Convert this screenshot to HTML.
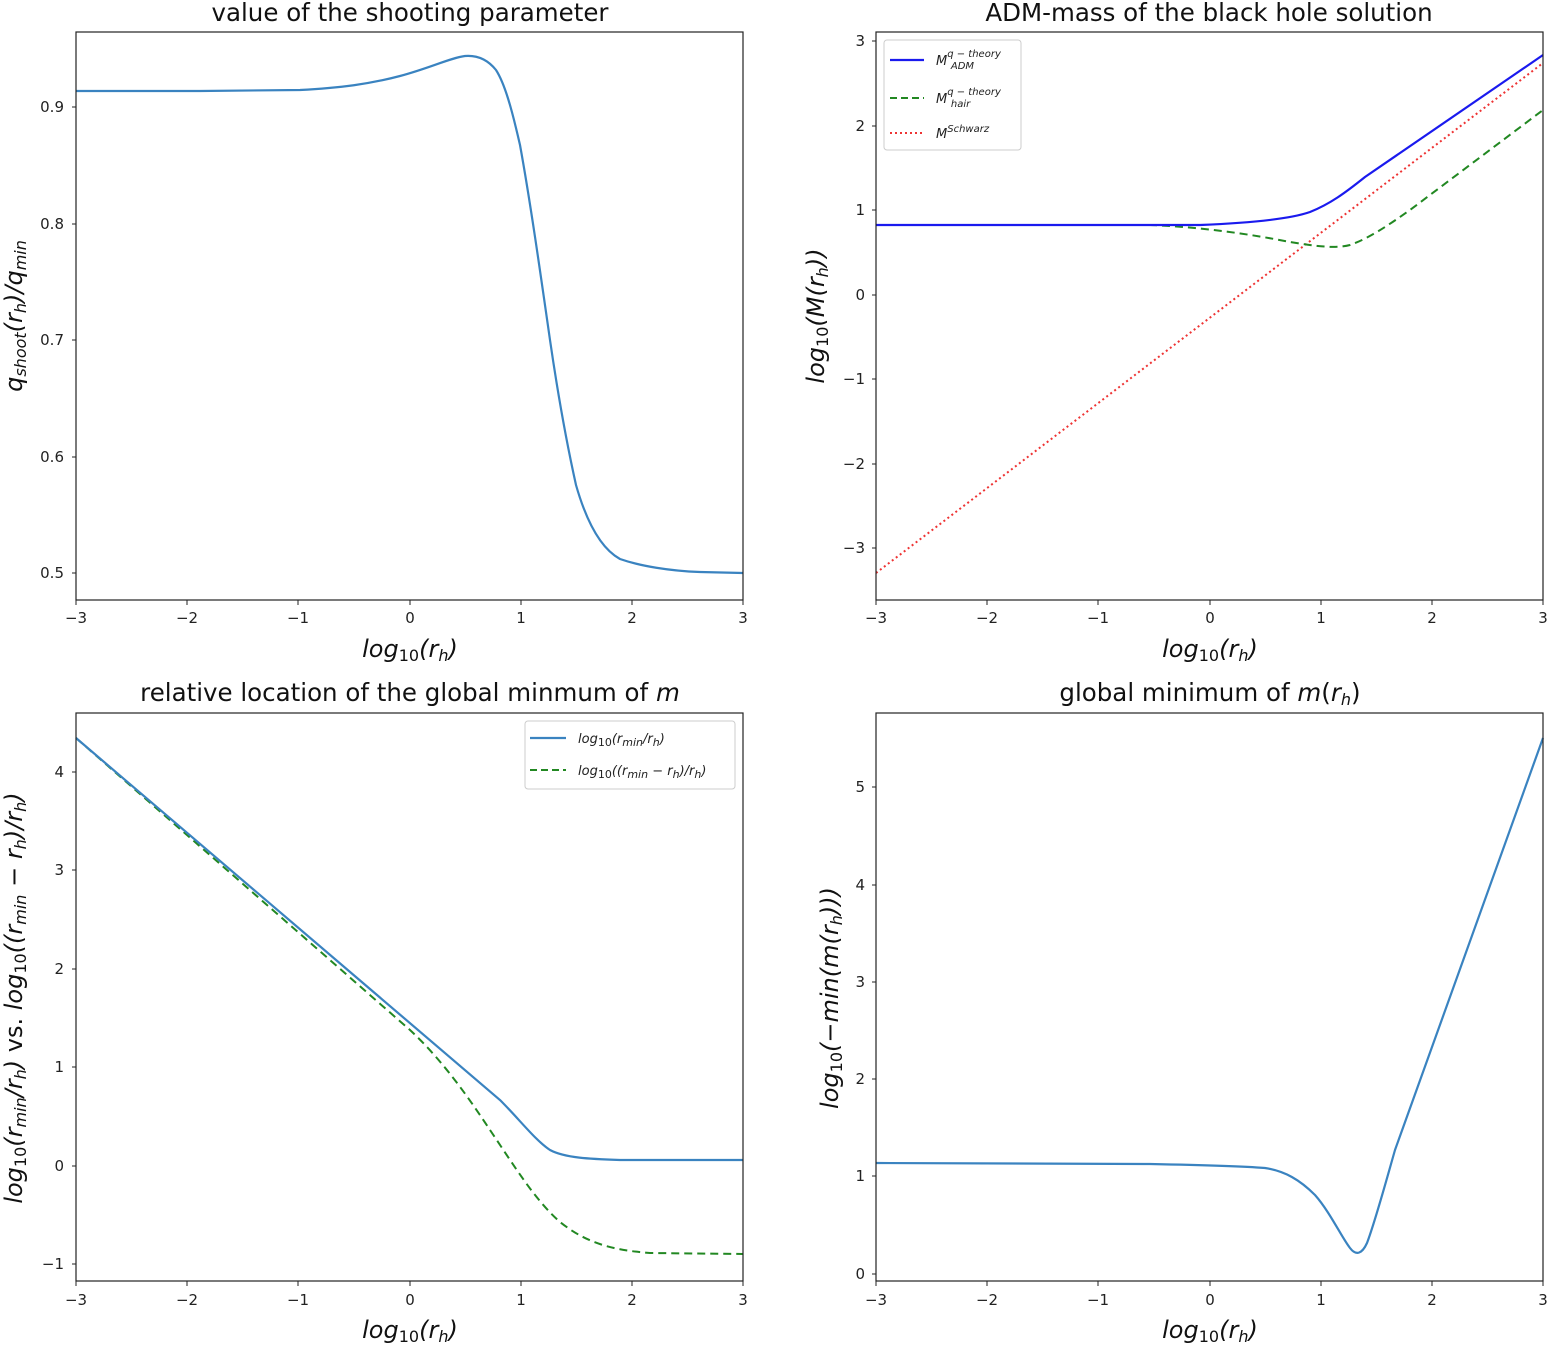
<!DOCTYPE html>
<html><head><meta charset="utf-8"><style>
html,body{margin:0;padding:0;background:#fff}
svg{display:block;font-family:"DejaVu Sans","Liberation Sans",sans-serif}
.t{font-size:15px;fill:#222}
.ti{font-size:24.5px;fill:#111}
.al{font-size:24px;font-style:italic;fill:#111}
.lg{font-size:13px;font-style:italic;fill:#222}
</style></head><body>
<svg width="1551" height="1345" viewBox="0 0 1551 1345" xmlns="http://www.w3.org/2000/svg">
<!-- Panel 1 -->
<text class="ti" x="410" y="21" text-anchor="middle">value of the shooting parameter</text>
<path d="M76,91 L200,91 L300,90 C340,88 370,84 400,76 C430,68 450,58 465,56 C478,55 488,60 496,70 C505,84 512,110 520,145 C530,200 540,270 550,340 C558,395 566,440 576,485 C586,520 600,548 620,559 C640,566 670,571 700,572 L743,573" fill="none" stroke="#3a83c0" stroke-width="2.2"/>
<rect x="76" y="32" width="667" height="568" fill="none" stroke="#222" stroke-width="1.2"/>
<g class="t" text-anchor="end">
<text x="64" y="112">0.9</text><text x="64" y="229">0.8</text><text x="64" y="345">0.7</text><text x="64" y="462">0.6</text><text x="64" y="578">0.5</text></g>
<g stroke="#222"><line x1="72" y1="107" x2="76" y2="107"/><line x1="72" y1="224" x2="76" y2="224"/><line x1="72" y1="340" x2="76" y2="340"/><line x1="72" y1="457" x2="76" y2="457"/><line x1="72" y1="573" x2="76" y2="573"/></g>
<g class="t" text-anchor="middle"><text x="76" y="623">−3</text><text x="187" y="623">−2</text><text x="298" y="623">−1</text><text x="410" y="623">0</text><text x="521" y="623">1</text><text x="632" y="623">2</text><text x="743" y="623">3</text></g>
<g stroke="#222"><line x1="76" y1="600" x2="76" y2="605"/><line x1="187" y1="600" x2="187" y2="605"/><line x1="298" y1="600" x2="298" y2="605"/><line x1="410" y1="600" x2="410" y2="605"/><line x1="521" y1="600" x2="521" y2="605"/><line x1="632" y1="600" x2="632" y2="605"/><line x1="743" y1="600" x2="743" y2="605"/></g>
<text class="al" x="410" y="657" text-anchor="middle">log<tspan font-size="16" dy="4" font-style="normal">10</tspan><tspan dy="-4">(r</tspan><tspan font-size="16" dy="4">h</tspan><tspan dy="-4">)</tspan></text>
<text class="al" transform="translate(22,316) rotate(-90)" text-anchor="middle">q<tspan font-size="16" dy="4">shoot</tspan><tspan dy="-4">(r</tspan><tspan font-size="16" dy="4">h</tspan><tspan dy="-4">)/q</tspan><tspan font-size="16" dy="4">min</tspan></text>

<!-- Panel 2 -->
<text class="ti" x="1209" y="21" text-anchor="middle">ADM-mass of the black hole solution</text>
<path d="M876,573 L1543,63" fill="none" stroke="#ee3333" stroke-width="2" stroke-dasharray="2,3"/>
<path d="M876,225 L1150,225 C1200,227 1250,234 1290,242 C1315,246 1335,249 1350,245 C1370,238 1390,224 1410,210 L1543,110" fill="none" stroke="#228822" stroke-width="2" stroke-dasharray="8,5"/>
<path d="M876,225 L1200,225 C1250,223 1290,219 1310,212 C1330,204 1345,193 1365,177 L1543,55" fill="none" stroke="#1a1aee" stroke-width="2.2"/>
<rect x="876" y="32" width="667" height="568" fill="none" stroke="#222" stroke-width="1.2"/>
<g class="t" text-anchor="end"><text x="865" y="46">3</text><text x="865" y="131">2</text><text x="865" y="215">1</text><text x="865" y="300">0</text><text x="865" y="384">−1</text><text x="865" y="469">−2</text><text x="865" y="553">−3</text></g>
<g stroke="#222"><line x1="872" y1="41" x2="876" y2="41"/><line x1="872" y1="126" x2="876" y2="126"/><line x1="872" y1="210" x2="876" y2="210"/><line x1="872" y1="295" x2="876" y2="295"/><line x1="872" y1="379" x2="876" y2="379"/><line x1="872" y1="464" x2="876" y2="464"/><line x1="872" y1="548" x2="876" y2="548"/></g>
<g class="t" text-anchor="middle"><text x="876" y="623">−3</text><text x="987" y="623">−2</text><text x="1098" y="623">−1</text><text x="1210" y="623">0</text><text x="1321" y="623">1</text><text x="1432" y="623">2</text><text x="1543" y="623">3</text></g>
<g stroke="#222"><line x1="876" y1="600" x2="876" y2="605"/><line x1="987" y1="600" x2="987" y2="605"/><line x1="1098" y1="600" x2="1098" y2="605"/><line x1="1210" y1="600" x2="1210" y2="605"/><line x1="1321" y1="600" x2="1321" y2="605"/><line x1="1432" y1="600" x2="1432" y2="605"/><line x1="1543" y1="600" x2="1543" y2="605"/></g>
<text class="al" x="1210" y="657" text-anchor="middle">log<tspan font-size="16" dy="4" font-style="normal">10</tspan><tspan dy="-4">(r</tspan><tspan font-size="16" dy="4">h</tspan><tspan dy="-4">)</tspan></text>
<text class="al" transform="translate(824,316) rotate(-90)" text-anchor="middle">log<tspan font-size="16" dy="4" font-style="normal">10</tspan><tspan dy="-4">(M(r</tspan><tspan font-size="16" dy="4">h</tspan><tspan dy="-4">))</tspan></text>
<rect x="884" y="40" width="137" height="110" rx="3" fill="#fff" stroke="#ccc"/>
<line x1="890" y1="60" x2="924" y2="60" stroke="#1a1aee" stroke-width="2.2"/>
<line x1="890" y1="98" x2="924" y2="98" stroke="#228822" stroke-width="2" stroke-dasharray="7,4"/>
<line x1="890" y1="133" x2="924" y2="133" stroke="#ee3333" stroke-width="2" stroke-dasharray="2,3"/>
<text class="lg" x="936" y="65">M<tspan font-size="10" dy="-8">q − theory</tspan><tspan font-size="10" dx="-50" dy="12">ADM</tspan></text>
<text class="lg" x="936" y="103">M<tspan font-size="10" dy="-8">q − theory</tspan><tspan font-size="10" dx="-50" dy="12">hair</tspan></text>
<text class="lg" x="936" y="138">M<tspan font-size="10" dy="-6">Schwarz</tspan></text>

<!-- Panel 3 -->
<text class="ti" x="410" y="701" text-anchor="middle">relative location of the global minmum of <tspan font-style="italic">m</tspan></text>
<path d="M76,738 L410,1030 C440,1058 465,1092 490,1130 C515,1167 535,1200 560,1222 C585,1242 610,1250 650,1253 L743,1254" fill="none" stroke="#228822" stroke-width="2" stroke-dasharray="8,5"/>
<path d="M76,738 L500,1100 C520,1120 535,1140 550,1150 C565,1158 590,1159 620,1160 L743,1160" fill="none" stroke="#3a83c0" stroke-width="2.2"/>
<rect x="76" y="713" width="667" height="568" fill="none" stroke="#222" stroke-width="1.2"/>
<g class="t" text-anchor="end"><text x="64" y="777">4</text><text x="64" y="875">3</text><text x="64" y="974">2</text><text x="64" y="1072">1</text><text x="64" y="1171">0</text><text x="64" y="1269">−1</text></g>
<g stroke="#222"><line x1="72" y1="772" x2="76" y2="772"/><line x1="72" y1="870" x2="76" y2="870"/><line x1="72" y1="969" x2="76" y2="969"/><line x1="72" y1="1067" x2="76" y2="1067"/><line x1="72" y1="1166" x2="76" y2="1166"/><line x1="72" y1="1264" x2="76" y2="1264"/></g>
<g class="t" text-anchor="middle"><text x="76" y="1305">−3</text><text x="187" y="1305">−2</text><text x="298" y="1305">−1</text><text x="410" y="1305">0</text><text x="521" y="1305">1</text><text x="632" y="1305">2</text><text x="743" y="1305">3</text></g>
<g stroke="#222"><line x1="76" y1="1281" x2="76" y2="1286"/><line x1="187" y1="1281" x2="187" y2="1286"/><line x1="298" y1="1281" x2="298" y2="1286"/><line x1="410" y1="1281" x2="410" y2="1286"/><line x1="521" y1="1281" x2="521" y2="1286"/><line x1="632" y1="1281" x2="632" y2="1286"/><line x1="743" y1="1281" x2="743" y2="1286"/></g>
<text class="al" x="410" y="1338" text-anchor="middle">log<tspan font-size="16" dy="4" font-style="normal">10</tspan><tspan dy="-4">(r</tspan><tspan font-size="16" dy="4">h</tspan><tspan dy="-4">)</tspan></text>
<text class="al" transform="translate(22,998) rotate(-90)" text-anchor="middle">log<tspan font-size="16" dy="4" font-style="normal">10</tspan><tspan dy="-4">(r</tspan><tspan font-size="16" dy="4">min</tspan><tspan dy="-4">/r</tspan><tspan font-size="16" dy="4">h</tspan><tspan dy="-4">) </tspan><tspan font-style="normal">vs.</tspan> log<tspan font-size="16" dy="4" font-style="normal">10</tspan><tspan dy="-4">((r</tspan><tspan font-size="16" dy="4">min</tspan><tspan dy="-4"> − r</tspan><tspan font-size="16" dy="4">h</tspan><tspan dy="-4">)/r</tspan><tspan font-size="16" dy="4">h</tspan><tspan dy="-4">)</tspan></text>
<rect x="525" y="721" width="210" height="68" rx="3" fill="#fff" stroke="#ccc"/>
<line x1="530" y1="738" x2="566" y2="738" stroke="#3a83c0" stroke-width="2.2"/>
<line x1="530" y1="770" x2="566" y2="770" stroke="#228822" stroke-width="2" stroke-dasharray="7,4"/>
<text class="lg" x="578" y="743" font-size="15">log<tspan font-size="11" dy="3" font-style="normal">10</tspan><tspan dy="-3">(r</tspan><tspan font-size="11" dy="3">min</tspan><tspan dy="-3">/r</tspan><tspan font-size="11" dy="3">h</tspan><tspan dy="-3">)</tspan></text>
<text class="lg" x="578" y="775" font-size="15">log<tspan font-size="11" dy="3" font-style="normal">10</tspan><tspan dy="-3">((r</tspan><tspan font-size="11" dy="3">min</tspan><tspan dy="-3"> − r</tspan><tspan font-size="11" dy="3">h</tspan><tspan dy="-3">)/r</tspan><tspan font-size="11" dy="3">h</tspan><tspan dy="-3">)</tspan></text>

<!-- Panel 4 -->
<text class="ti" x="1210" y="701" text-anchor="middle">global minimum of <tspan font-style="italic">m</tspan>(<tspan font-style="italic">r</tspan><tspan font-size="16" dy="4" font-style="italic">h</tspan><tspan dy="-4">)</tspan></text>
<path d="M876,1163 L1150,1164 C1200,1165 1240,1166 1265,1168 C1285,1171 1300,1180 1315,1195 C1330,1212 1342,1238 1350,1248 C1356,1256 1362,1254 1367,1243 C1375,1222 1385,1185 1395,1150 L1543,738" fill="none" stroke="#3a83c0" stroke-width="2.2"/>
<rect x="876" y="713" width="667" height="568" fill="none" stroke="#222" stroke-width="1.2"/>
<g class="t" text-anchor="end"><text x="865" y="792">5</text><text x="865" y="890">4</text><text x="865" y="987">3</text><text x="865" y="1084">2</text><text x="865" y="1181">1</text><text x="865" y="1279">0</text></g>
<g stroke="#222"><line x1="872" y1="787" x2="876" y2="787"/><line x1="872" y1="885" x2="876" y2="885"/><line x1="872" y1="982" x2="876" y2="982"/><line x1="872" y1="1079" x2="876" y2="1079"/><line x1="872" y1="1176" x2="876" y2="1176"/><line x1="872" y1="1274" x2="876" y2="1274"/></g>
<g class="t" text-anchor="middle"><text x="876" y="1305">−3</text><text x="987" y="1305">−2</text><text x="1098" y="1305">−1</text><text x="1210" y="1305">0</text><text x="1321" y="1305">1</text><text x="1432" y="1305">2</text><text x="1543" y="1305">3</text></g>
<g stroke="#222"><line x1="876" y1="1281" x2="876" y2="1286"/><line x1="987" y1="1281" x2="987" y2="1286"/><line x1="1098" y1="1281" x2="1098" y2="1286"/><line x1="1210" y1="1281" x2="1210" y2="1286"/><line x1="1321" y1="1281" x2="1321" y2="1286"/><line x1="1432" y1="1281" x2="1432" y2="1286"/><line x1="1543" y1="1281" x2="1543" y2="1286"/></g>
<text class="al" x="1210" y="1338" text-anchor="middle">log<tspan font-size="16" dy="4" font-style="normal">10</tspan><tspan dy="-4">(r</tspan><tspan font-size="16" dy="4">h</tspan><tspan dy="-4">)</tspan></text>
<text class="al" transform="translate(838,998) rotate(-90)" text-anchor="middle">log<tspan font-size="16" dy="4" font-style="normal">10</tspan><tspan dy="-4">(−min(m(r</tspan><tspan font-size="16" dy="4">h</tspan><tspan dy="-4">)))</tspan></text>
</svg>
</body></html>
